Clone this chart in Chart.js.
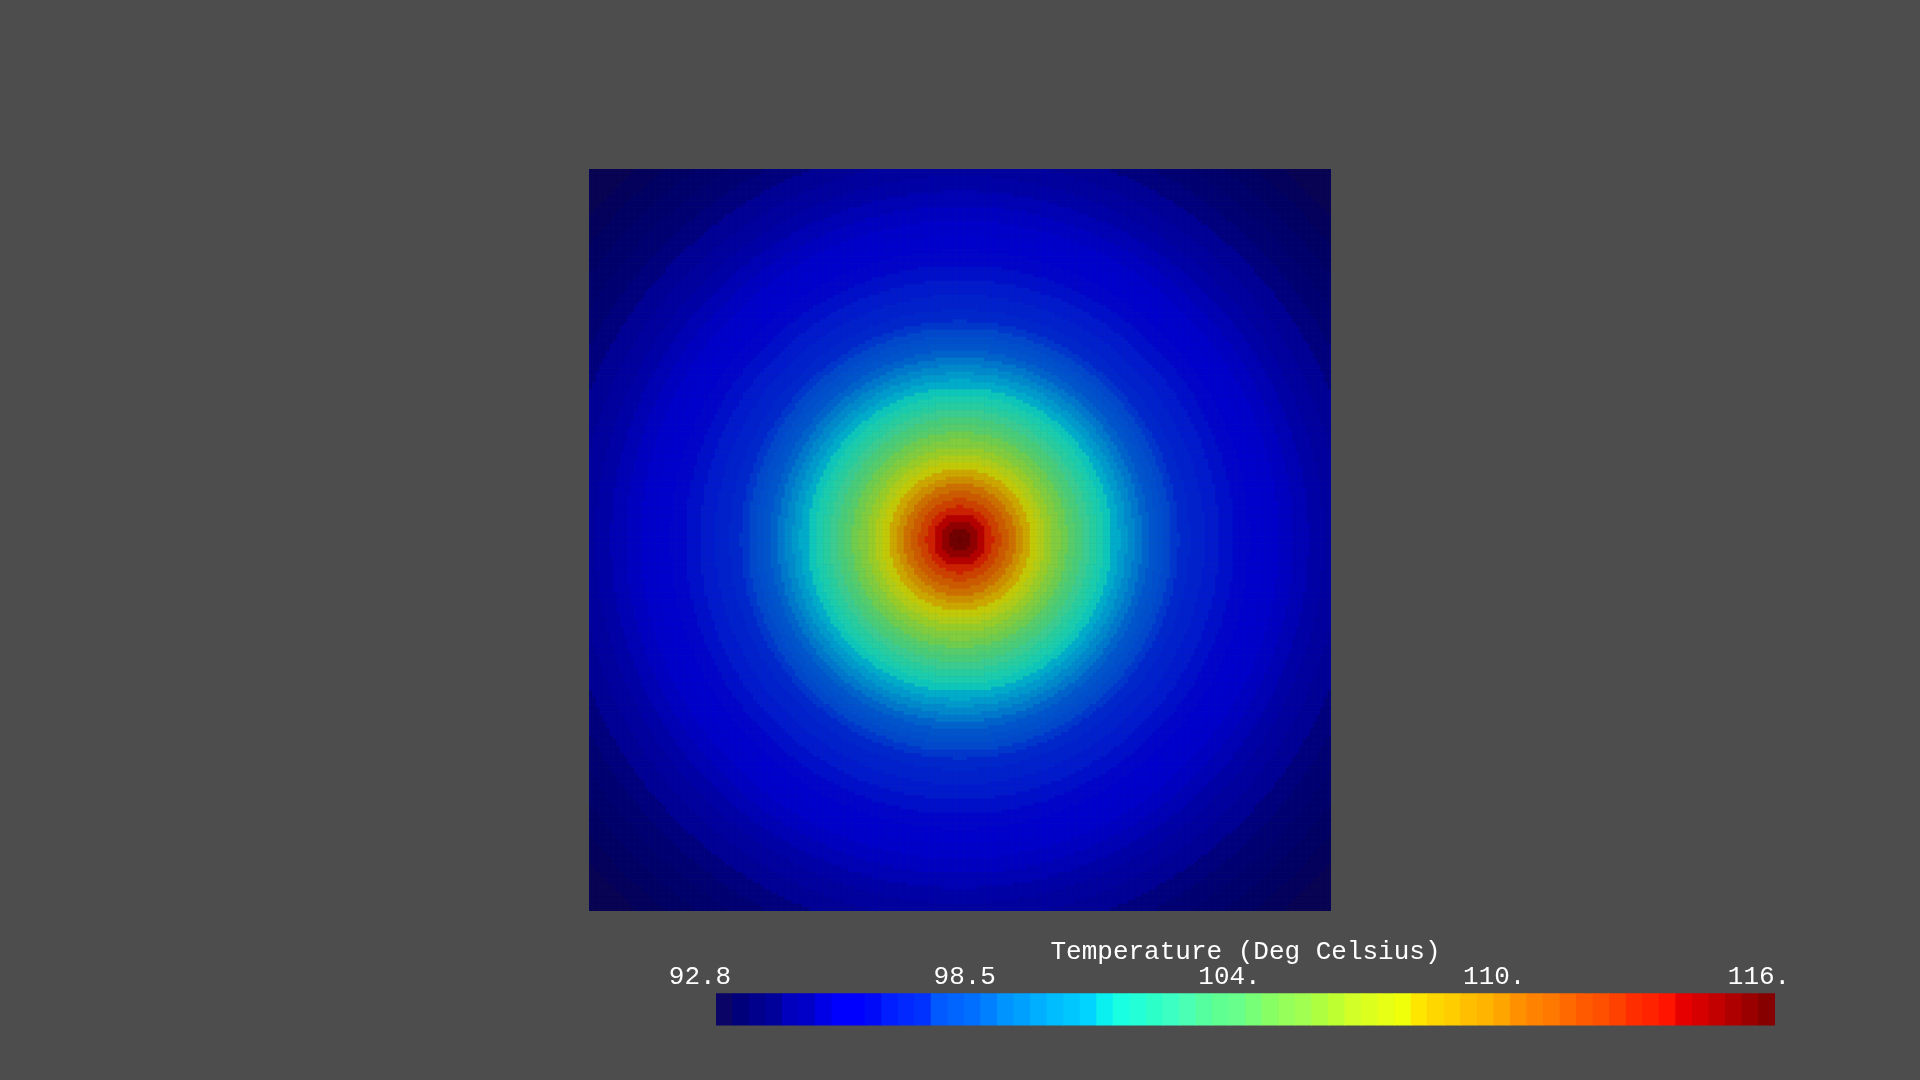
<!DOCTYPE html>
<html>
<head>
<meta charset="utf-8">
<script src="https://cdn.jsdelivr.net/npm/chart.js@4.4.1/dist/chart.umd.min.js"></script>
<style>
  html, body { margin: 0; padding: 0; background: #4d4d4d; width: 1920px; height: 1080px; overflow: hidden; }
  .box { position: absolute; }
  #fieldBox { left: 589px; top: 169px; width: 742px; height: 742px; }
  #barBox { left: 616px; top: 930px; width: 1259px; height: 127px; }
</style>
</head>
<body>
<div class="box" id="fieldBox"><canvas id="field"></canvas></div>
<div class="box" id="barBox"><canvas id="legend"></canvas></div>
<script>
// legend range and labels
const tempMin = 92.8;
const tempMax = 116.0;
const legendTickValues = [92.8, 98.6, 104.4, 110.2, 116.0];
const legendTickLabels = ["92.8", "98.5", "104.", "110.", "116."];
const legendTitle = "Temperature (Deg Celsius)";

// temperature going out from the hot spot, distance in half-widths of the plate
const profileRadius = [0.00, 0.02, 0.04, 0.06, 0.08, 0.10, 0.12, 0.14, 0.16, 0.18,
  0.20, 0.22, 0.24, 0.26, 0.28, 0.30, 0.32, 0.34, 0.36, 0.38,
  0.40, 0.42, 0.44, 0.46, 0.48, 0.50, 0.52, 0.54, 0.56, 0.58,
  0.60, 0.64, 0.68, 0.72, 0.76, 0.80, 0.84, 0.88, 0.92, 0.96,
  1.00, 1.05, 1.10, 1.15, 1.20, 1.25, 1.30, 1.35, 1.40, 1.45];
const profileTemp = [116.0, 115.7, 115.0, 114.1, 113.1, 112.2, 111.3, 110.5, 109.7, 108.8,
  107.9, 107.1, 106.4, 105.7, 105.0, 104.3, 103.7, 103.1, 102.5, 102.0,
  101.5, 101.0, 100.4, 99.8, 99.2, 98.7, 98.3, 98.0, 97.7, 97.5,
  97.3, 97.0, 96.7, 96.4, 96.1, 95.8, 95.5, 95.3, 95.1, 94.9,
  94.7, 94.4, 94.1, 93.8, 93.6, 93.4, 93.2, 93.0, 92.9, 92.8];

// legend colour bands, cold to hot
const bandColors = [
  "#0a0466", "#00007a", "#00008c", "#00009a", "#0000be", "#0000c8", "#0000e6", "#0000ff",
  "#0000ff", "#000af8", "#001eff", "#0028ff", "#0032ff", "#005aff", "#0064ff", "#006eff",
  "#0080ff", "#0094ff", "#00a0ff", "#00afff", "#00bdff", "#00c8ff", "#00d4ff", "#0af0f0",
  "#19ffe1", "#23ffd7", "#2dffc8", "#3cffc3", "#4bffb4", "#55ffa0", "#5fff91", "#69ff8c",
  "#78ff78", "#87ff64", "#96ff5a", "#a0ff50", "#afff41", "#beff32", "#d2ff28", "#dcff1e",
  "#e6ff14", "#f0ff0a", "#ffe600", "#ffd700", "#ffcd00", "#ffbe00", "#ffb400", "#ffa500",
  "#ff9100", "#ff8200", "#ff7800", "#ff6900", "#ff5a00", "#ff5000", "#ff4100", "#ff2d00",
  "#ff2300", "#ff1400", "#e60000", "#d70000", "#c30000", "#af0000", "#9b0000", "#870000"
];

const gridSize = 212;   // cells per side of the plate
const shade = 0.8;      // the plate is lit, a bit darker than the legend

const hexToRgb = h => [1, 3, 5].map(i => parseInt(h.substr(i, 2), 16));
const bandRgb = bandColors.map(hexToRgb);

function tempColor(t) {
    const n = bandRgb.length;
    let p = (t - tempMin) / (tempMax - tempMin) * n - 0.5;
    p = Math.max(0, Math.min(n - 1, p));
    const i = Math.floor(p);
    const f = p - i;
    const a = bandRgb[i], b = bandRgb[Math.min(i + 1, n - 1)];
    const c = a.map((v, k) => Math.round((v + (b[k] - v) * f) * shade));
    return `rgb(${c[0]},${c[1]},${c[2]})`;
}

// nearest profile entry for a distance
function profileAt(r) {
    let best = 0;
    for (let k = 1; k < profileRadius.length; k++) {
        if (Math.abs(profileRadius[k] - r) < Math.abs(profileRadius[best] - r)) best = k;
    }
    return profileTemp[best];
}

const cells = [];
const cellColors = [];
for (let j = 0; j < gridSize; j++) {
    for (let i = 0; i < gridSize; i++) {
        const dx = (i + 0.5) / gridSize * 2 - 1;
        const dy = (j + 0.5) / gridSize * 2 - 1;
        cells.push({ x: i + 0.5, y: j + 0.5 });
        cellColors.push(tempColor(profileAt(Math.sqrt(dx * dx + dy * dy))));
    }
}

const cellPx = 742 / gridSize;

new Chart(document.getElementById("field"), {
    type: "scatter",
    data: {
        datasets: [{
            data: cells,
            pointStyle: "rect",
            pointRadius: cellPx / Math.SQRT2 + 0.4,
            pointHoverRadius: cellPx / Math.SQRT2 + 0.4,
            borderWidth: 0,
            backgroundColor: cellColors,
            clip: 0,
        }],
    },
    options: {
        responsive: true,
        maintainAspectRatio: false,
        animation: false,
        events: [],
        layout: { padding: 0, autoPadding: false },
        scales: {
            x: { type: "linear", min: 0, max: gridSize, display: false },
            y: { type: "linear", min: 0, max: gridSize, display: false, reverse: true },
        },
        plugins: {
            legend: { display: false },
            tooltip: { enabled: false },
        },
    },
});

const monoFont = '"Liberation Mono", "Courier New", monospace';

// the bar sits in the upper half of the plot area, the lower half stays empty
new Chart(document.getElementById("legend"), {
    type: "bar",
    data: {
        labels: bandColors.map((c, i) => i),
        datasets: [{
            data: bandColors.map(() => [1, 2]),
            backgroundColor: bandColors,
            borderWidth: 0,
            barPercentage: 1,
            categoryPercentage: 1,
        }],
    },
    options: {
        responsive: true,
        maintainAspectRatio: false,
        animation: false,
        events: [],
        layout: { padding: { left: 100, right: 100, top: 13, bottom: 0 } },
        scales: {
            x: { display: false },
            y: { display: false, min: 0, max: 2 },
            temp: {
                type: "linear",
                axis: "x",
                position: "top",
                offset: false,
                min: tempMin,
                max: tempMax,
                afterBuildTicks: (s) => { s.ticks = legendTickValues.map(v => ({ value: v })); },
                grid: { display: false, drawTicks: false, offset: false },
                border: { display: false },
                ticks: {
                    color: "#ffffff",
                    font: { family: monoFont, size: 26, lineHeight: 1 },
                    padding: 3,
                    labelOffset: -16,
                    autoSkip: false,
                    maxRotation: 0,
                    callback: (v, i) => legendTickLabels[i],
                },
                title: {
                    display: true,
                    text: legendTitle,
                    color: "#ffffff",
                    font: { family: monoFont, size: 26, lineHeight: 0.7 },
                    padding: 0,
                },
            },
        },
        plugins: {
            legend: { display: false },
            tooltip: { enabled: false },
        },
    },
});
</script>
</body>
</html>
